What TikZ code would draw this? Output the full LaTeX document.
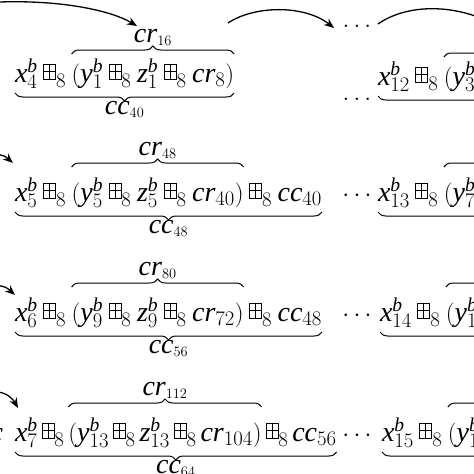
\documentclass[tikz,border=0pt]{standalone}
\usepackage{fontspec}
\setmainfont{Liberation Serif}
\DeclareSymbolFont{tmsit}{TU}{\rmdefault}{m}{it}
\DeclareSymbolFont{tmsup}{TU}{\rmdefault}{m}{n}
\DeclareMathSymbol{b}{\mathalpha}{tmsit}{`b}
\DeclareMathSymbol{c}{\mathalpha}{tmsit}{`c}
\DeclareMathSymbol{r}{\mathalpha}{tmsit}{`r}
\DeclareMathSymbol{x}{\mathalpha}{tmsit}{`x}
\DeclareMathSymbol{y}{\mathalpha}{tmsit}{`y}
\DeclareMathSymbol{z}{\mathalpha}{tmsit}{`z}
\DeclareMathSymbol{0}{\mathalpha}{tmsup}{`0}
\DeclareMathSymbol{1}{\mathalpha}{tmsup}{`1}
\DeclareMathSymbol{2}{\mathalpha}{tmsup}{`2}
\DeclareMathSymbol{3}{\mathalpha}{tmsup}{`3}
\DeclareMathSymbol{4}{\mathalpha}{tmsup}{`4}
\DeclareMathSymbol{5}{\mathalpha}{tmsup}{`5}
\DeclareMathSymbol{6}{\mathalpha}{tmsup}{`6}
\DeclareMathSymbol{7}{\mathalpha}{tmsup}{`7}
\DeclareMathSymbol{8}{\mathalpha}{tmsup}{`8}
\DeclareMathSymbol{9}{\mathalpha}{tmsup}{`9}
\DeclareMathSymbol{(}{\mathopen}{tmsup}{`(}
\DeclareMathSymbol{)}{\mathclose}{tmsup}{`)}
\usetikzlibrary{arrows.meta,decorations.pathreplacing,calc}
\newcommand{\sqp}{\mathbin{\tikz[x=1pt,y=1pt,baseline=-3pt,line width=0.8pt]{\draw (0,0) rectangle (12,15) (6,0)--(6,15) (0,7.5)--(12,7.5);}}}
\newcommand{\bp}{\sqp_{\lower2pt\hbox{$\scriptstyle 8$}}}
\newcommand{\lab}[2]{#1_{\scriptscriptstyle #2}}
\newcommand{\tsp}{\medmuskip=2.8mu\relax}
\begin{document}
\begin{tikzpicture}[x=1pt,y=-1pt,
  every node/.style={inner sep=0pt,outer sep=0pt},
  expr/.style={anchor=base west,font=\fontsize{28}{32}\selectfont},
  labnode/.style={anchor=base,font=\fontsize{28}{32}\selectfont},
  dotsnode/.style={anchor=base,font=\fontsize{28}{32}\selectfont},
  obrace/.style={decorate,decoration={brace,amplitude=8pt},line width=1pt},
  ubrace/.style={decorate,decoration={brace,amplitude=8pt,mirror},line width=1pt},
  arr/.style={-{Stealth[length=10pt,width=8pt]},line width=1.3pt}]
\useasboundingbox (0,0) rectangle (474,474);
\clip (0,0) rectangle (474,474);
% ---------- row 1 ----------
\node[expr] (r1x) at (15,82) {$x_4^b \bp{}$};
\node[expr] (r1p) at (r1x.base east) {$(y_1^b \bp z_1^b \bp cr_8)$};
\draw[obrace] ([yshift=28pt]r1p.base west) -- ([yshift=28pt]r1p.base east);
\node[labnode] (r1o) at ($(r1p.base west)!0.5!(r1p.base east)+(0,-40)$) {$\lab{cr}{16}$};
\draw[ubrace] ([yshift=-11pt]r1x.base west) -- ([yshift=-11pt]r1p.base east);
\node[labnode] (r1u) at ($(r1x.base west)!0.5!(r1p.base east)+(0,32)$) {$\lab{cc}{40}$};
\node[dotsnode] (d1) at (357,100) {$\ldots$};
\node[expr] (r1y) at (378,85) {$x_{12}^b \bp{}$};
\node[expr] (r1q) at (r1y.base east) {$(y_3^b \bp z_3^b \bp cr_{24})$};
\draw[obrace] ([yshift=28pt]r1q.base west) -- ([yshift=28pt]r1q.base east);
\draw[ubrace] ([yshift=-11pt]r1y.base west) -- ([yshift=-11pt]r1q.base east);
\node[dotsnode] (d0) at (357,27) {$\ldots$};
% ---------- row 2 ----------
\node[expr] (r2x) at (15,201) {$x_5^b \bp{}$};
\node[expr] (r2p) at (r2x.base east) {$(y_5^b \bp z_5^b \bp cr_{40})$};
\node[expr] (r2c) at (r2p.base east) {${}\bp cc_{40}$};
\draw[obrace] ([yshift=34pt]r2p.base west) -- ([yshift=34pt]r2p.base east);
\node[labnode] (r2o) at ($(r2p.base west)!0.5!(r2p.base east)+(0,-46)$) {$\lab{cr}{48}$};
\draw[ubrace] ([yshift=-11pt]r2x.base west) -- ([yshift=-11pt]r2c.base east);
\node[labnode] (r2u) at ($(r2x.base west)!0.5!(r2c.base east)+(0,32)$) {$\lab{cc}{48}$};
\node[dotsnode] (d2) at (357,201) {$\cdots$};
\node[expr] (r2y) at (378,201) {$x_{13}^b \bp{}$};
\node[expr] (r2q) at (r2y.base east) {$(y_7^b \bp z_7^b \bp cr_{56})$};
\draw[obrace] ([yshift=34pt]r2q.base west) -- ([yshift=34pt]r2q.base east);
\draw[ubrace] ([yshift=-11pt]r2y.base west) -- ([yshift=-11pt]r2q.base east);
% ---------- row 3 ----------
\node[expr] (r3x) at (15,321) {$x_6^b \bp{}$};
\node[expr] (r3p) at (r3x.base east) {$(y_9^b \bp z_9^b \bp cr_{72})$};
\node[expr] (r3c) at (r3p.base east) {${}\bp cc_{48}$};
\draw[obrace] ([yshift=34pt]r3p.base west) -- ([yshift=34pt]r3p.base east);
\node[labnode] (r3o) at ($(r3p.base west)!0.5!(r3p.base east)+(0,-46)$) {$\lab{cr}{80}$};
\draw[ubrace] ([yshift=-11pt]r3x.base west) -- ([yshift=-11pt]r3c.base east);
\node[labnode] (r3u) at ($(r3x.base west)!0.5!(r3c.base east)+(0,32)$) {$\lab{cc}{56}$};
\node[dotsnode] (d3) at (357,321) {$\cdots$};
\node[expr] (r3y) at (380,321) {$x_{14}^b \bp{}$};
\node[expr] (r3q) at (r3y.base east) {$(y_{11}^b \bp z_{11}^b \bp cr_{88})$};
\draw[obrace] ([yshift=34pt]r3q.base west) -- ([yshift=34pt]r3q.base east);
\draw[ubrace] ([yshift=-11pt]r3y.base west) -- ([yshift=-11pt]r3q.base east);
% ---------- row 4 ----------
\node[expr,anchor=base east] (c4) at (3,441) {$c$};
\node[expr] (r4x) at (15,441) {$\tsp x_7^b \bp{}$};
\node[expr] (r4p) at (r4x.base east) {$\tsp (y_{13}^b \bp z_{13}^b \bp cr_{104})$};
\node[expr] (r4c) at (r4p.base east) {$\tsp {}\bp cc_{56}$};
\draw[obrace] ([yshift=34pt]r4p.base west) -- ([yshift=34pt]r4p.base east);
\node[labnode] (r4o) at ($(r4p.base west)!0.5!(r4p.base east)+(0,-46)$) {$\lab{cr}{112}$};
\draw[ubrace] ([yshift=-11pt]r4x.base west) -- ([yshift=-11pt]r4c.base east);
\node[labnode] (r4u) at ($(r4x.base west)!0.5!(r4c.base east)+(0,32)$) {$\lab{cc}{64}$};
\node[dotsnode] (d4) at (357,441) {$\cdots$};
\node[expr] (r4y) at (382,441) {$x_{15}^b \bp{}$};
\node[expr] (r4q) at (r4y.base east) {$(y_{15}^b \bp z_{15}^b \bp cr_{120})$};
\draw[obrace] ([yshift=34pt]r4q.base west) -- ([yshift=34pt]r4q.base east);
\draw[ubrace] ([yshift=-11pt]r4y.base west) -- ([yshift=-11pt]r4q.base east);
% ---------- arrows ----------
\coordinate (a1s) at (0,2);
\coordinate (a1e) at (137,26);
\coordinate (a2s) at (228,23);
\coordinate (a2e) at (334,28);
\coordinate (a3s) at (378,24);
\coordinate (a3e) at (490,22);
\draw[arr] (a1s) .. controls (60,0) and (110,10) .. (a1e);
\draw[arr] (a2s) .. controls (255,5) and (305,5) .. (a2e);
\draw[line width=1.3pt] (a3s) .. controls (405,5) and (450,3) .. (a3e);
\coordinate (b2s) at (-4,154);
\coordinate (b2e) at (13,163);
\draw[arr] (b2s) .. controls (5,156) .. (b2e);
\coordinate (b3s) at (-4,285);
\coordinate (b3e) at (15,295);
\draw[arr] (b3s) .. controls (6,287) .. (b3e);
\coordinate (b4s) at (-2,392);
\coordinate (b4e) at (18,408);
\draw[arr] (b4s) .. controls (7,393) and (13,399) .. (b4e);
\end{tikzpicture}
\end{document}
